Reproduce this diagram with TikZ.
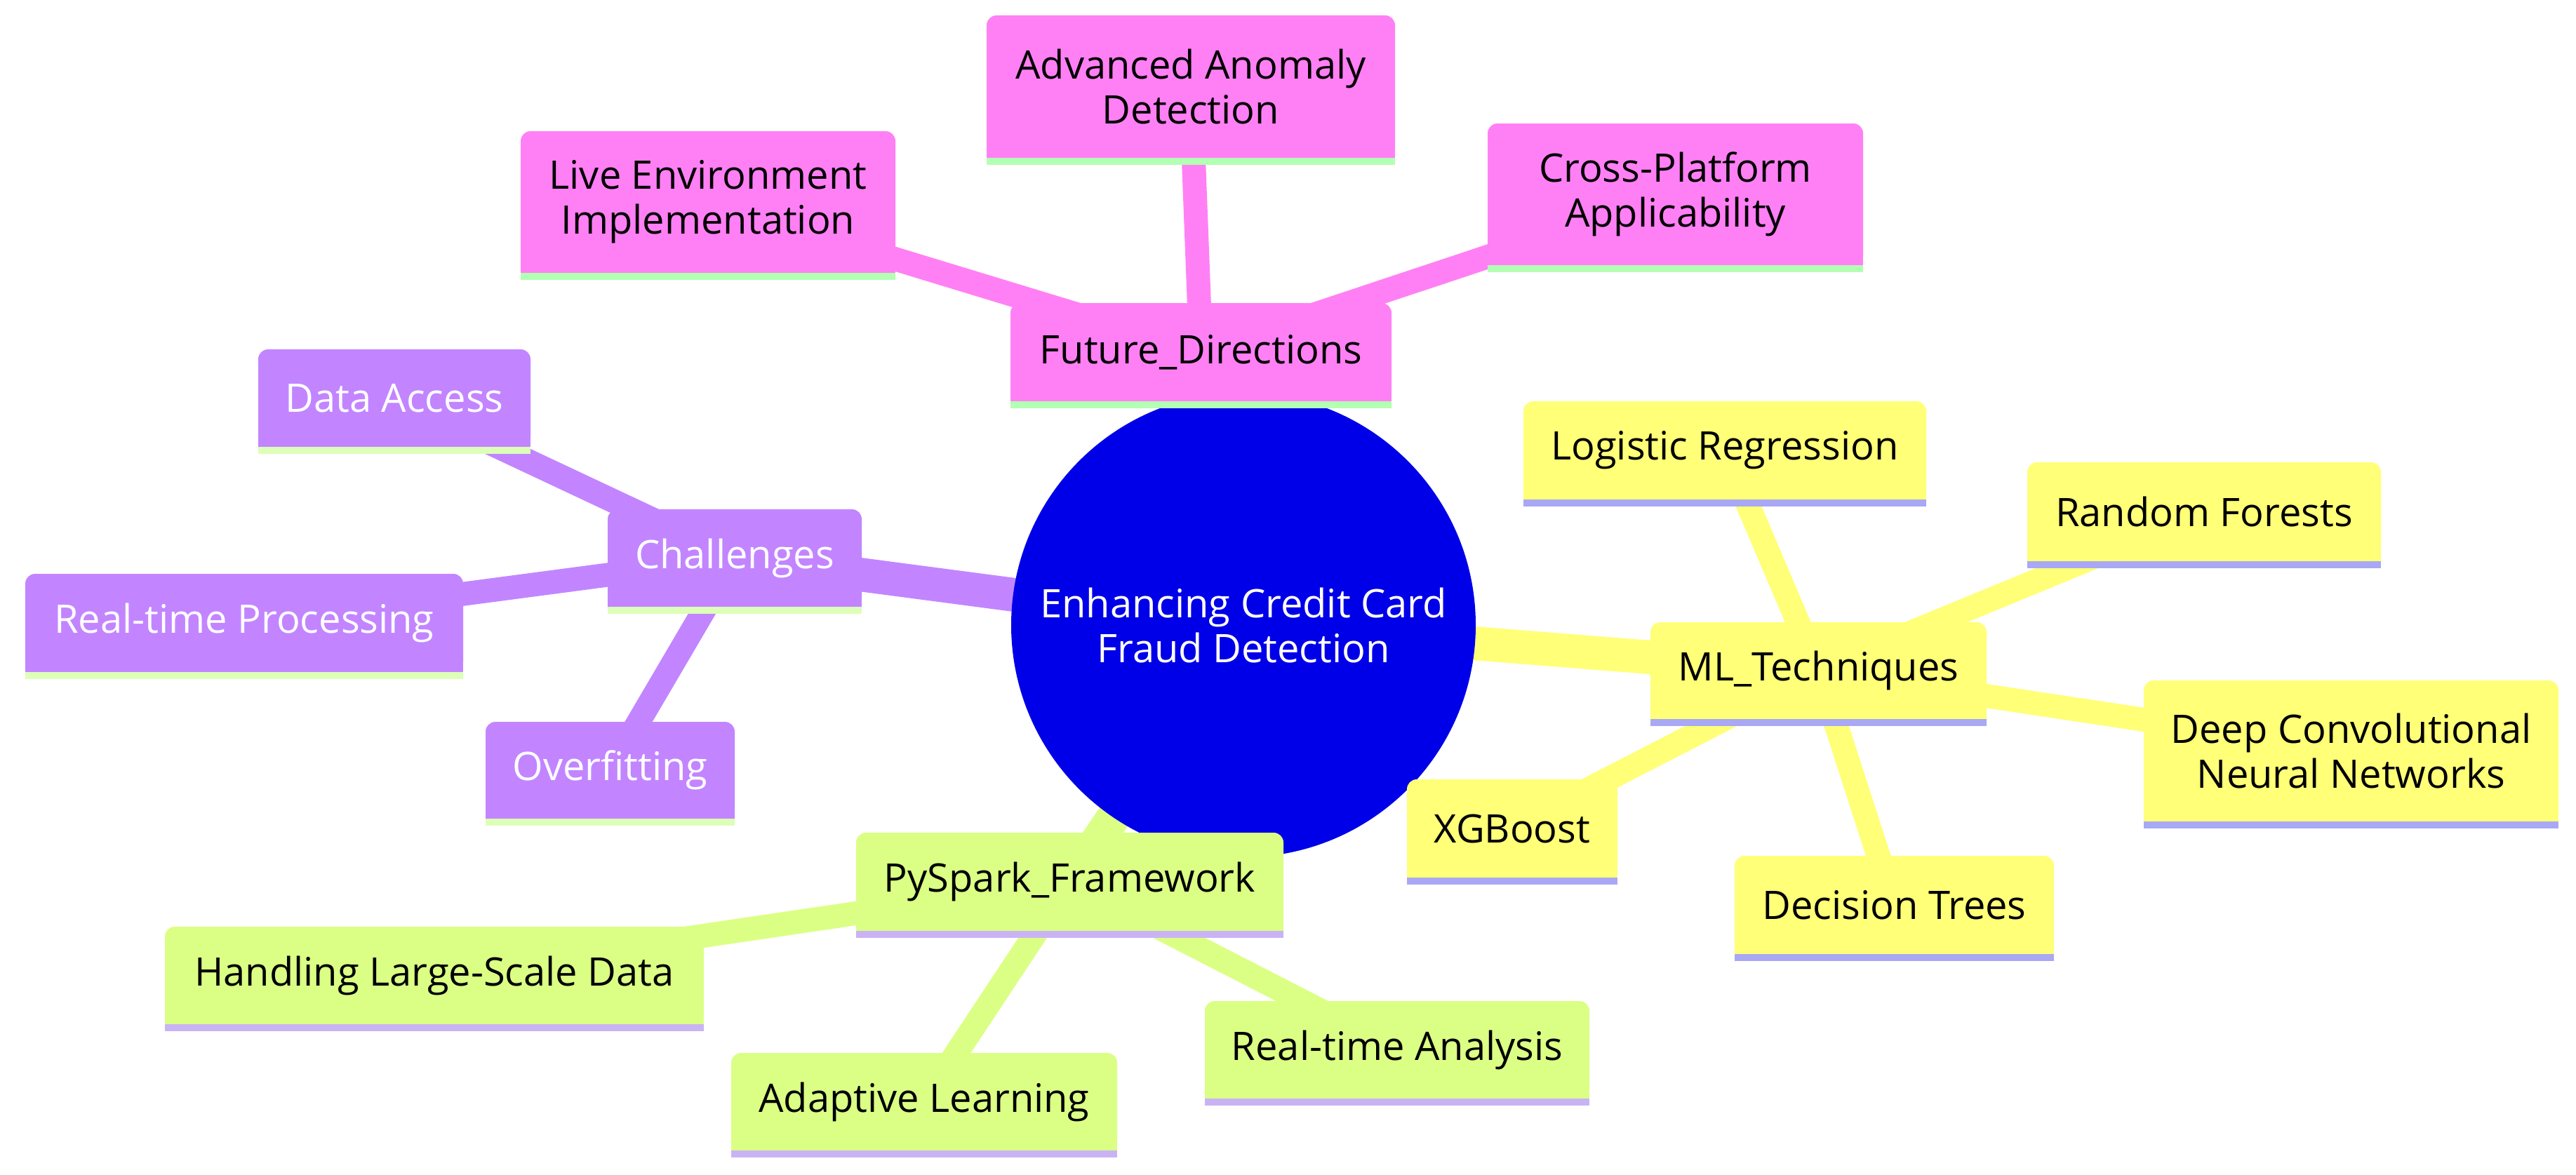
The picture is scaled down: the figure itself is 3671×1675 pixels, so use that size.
\documentclass[tikz,border=0pt]{standalone}
\usepackage{fontspec}
\setmainfont{Open Sans}
\definecolor{fillpk}{HTML}{FF80F5}
\definecolor{linepk}{HTML}{B3FFB3}
\definecolor{fillpu}{HTML}{C285FF}
\definecolor{linepu}{HTML}{DDFFB8}
\definecolor{fillye}{HTML}{FFFF78}
\definecolor{lineye}{HTML}{A8A8F5}
\definecolor{fillli}{HTML}{DBFF85}
\definecolor{lineli}{HTML}{C9B3F5}
\definecolor{rootblue}{HTML}{0000E8}
\pgfdeclarelayer{bg}
\pgfdeclarelayer{edges}
\pgfsetlayers{bg,edges,main}
\tikzset{
  mmtext/.style={align=center, inner sep=0pt, font=\fontsize{56}{64}\selectfont},
  txtpk/.style={text=black}, txtpu/.style={text=white},
  txtye/.style={text=black}, txtli/.style={text=black},
  rootedge/.style={line width=48pt},
  leafedge/.style={line width=34pt}
}
\newcommand\mmnode[7]{%
  \fill[fill#6, rounded corners=14pt] (#2,#3) rectangle (#4,#5);
  \fill[fill#6] (#2,{(#3+#5)/2}) rectangle (#4,#5);
  \fill[line#6] (#2,#5) rectangle (#4,{#5+10});
  \node[mmtext, txt#6] (#1) at ({(#2+#4)/2},{(#3+#5)/2}) {#7};
}
\begin{document}
\begin{tikzpicture}[x=1pt,y=-1pt]
\begin{pgfonlayer}{bg}
\fill[white] (0,0) rectangle (3671,1675);
\end{pgfonlayer}
\useasboundingbox (0,0) rectangle (3671,1675);
% root
\node[circle, fill=rootblue, minimum size=662pt, inner sep=0pt] (rootc) at (1772,891) {};
\node[mmtext, text=white] (root) at (1772,891) {Enhancing Credit Card\\Fraud Detection};
% Future directions
\mmnode{fd}{1440}{432}{1983}{572}{pk}{Future\_Directions}
\mmnode{adv}{1406}{22}{1988}{225}{pk}{Advanced Anomaly\\Detection}
\mmnode{live}{742}{187}{1276}{389}{pk}{Live Environment\\Implementation}
\mmnode{cross}{2120}{176}{2655}{378}{pk}{Cross-Platform\\Applicability}
% Challenges
\mmnode{chal}{866}{726}{1228}{865}{pu}{Challenges}
\mmnode{data}{368}{498}{756}{637}{pu}{Data Access}
\mmnode{rtp}{36}{818}{660}{958}{pu}{Real-time Processing}
\mmnode{over}{692}{1029}{1047}{1167}{pu}{Overfitting}
% ML
\mmnode{ml}{2352}{887}{2831}{1025}{ye}{ML\_Techniques}
\mmnode{lr}{2171}{572}{2745}{712}{ye}{Logistic Regression}
\mmnode{rf}{2889}{659}{3393}{800}{ye}{Random Forests}
\mmnode{dcnn}{3055}{970}{3646}{1171}{ye}{Deep Convolutional\\Neural Networks}
\mmnode{xgb}{2005}{1111}{2305}{1251}{ye}{XGBoost}
\mmnode{dt}{2472}{1220}{2927}{1360}{ye}{Decision Trees}
% PySpark
\mmnode{py}{1220}{1187}{1829}{1327}{li}{PySpark\_Framework}
\mmnode{hl}{235}{1321}{1003}{1460}{li}{Handling Large-Scale Data}
\mmnode{al}{1042}{1501}{1592}{1640}{li}{Adaptive Learning}
\mmnode{rta}{1717}{1427}{2265}{1566}{li}{Real-time Analysis}
% edges
\begin{pgfonlayer}{edges}
\draw[rootedge, fillpk] (rootc.center) -- (fd.center);
\draw[rootedge, fillpu] (rootc.center) -- (chal.center);
\draw[rootedge, fillye] (rootc.center) -- (ml.center);
\draw[rootedge, fillli] (rootc.center) -- (py.center);
\draw[leafedge, fillpk] (fd.center) -- (adv.center);
\draw[leafedge, fillpk] (fd.center) -- (live.center);
\draw[leafedge, fillpk] (fd.center) -- (cross.center);
\draw[leafedge, fillpu] (chal.center) -- (data.center);
\draw[leafedge, fillpu] (chal.center) -- (rtp.center);
\draw[leafedge, fillpu] (chal.center) -- (over.center);
\draw[leafedge, fillye] (ml.center) -- (lr.center);
\draw[leafedge, fillye] (ml.center) -- (rf.center);
\draw[leafedge, fillye] (ml.center) -- (dcnn.center);
\draw[leafedge, fillye] (ml.center) -- (xgb.center);
\draw[leafedge, fillye] (ml.center) -- (dt.center);
\draw[leafedge, fillli] (py.center) -- (hl.center);
\draw[leafedge, fillli] (py.center) -- (al.center);
\draw[leafedge, fillli] (py.center) -- (rta.center);
\end{pgfonlayer}
\end{tikzpicture}
\end{document}
